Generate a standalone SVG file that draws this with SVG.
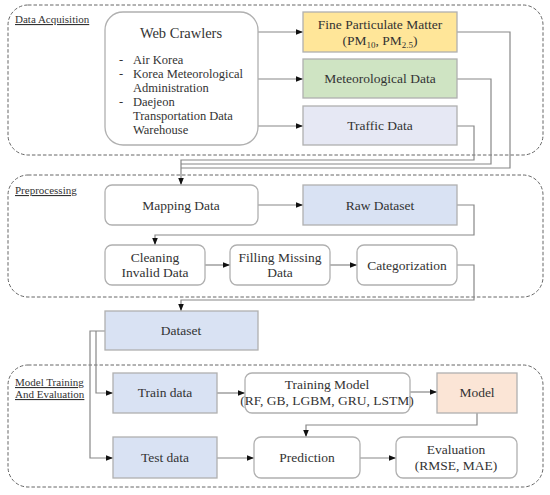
<svg xmlns="http://www.w3.org/2000/svg" width="550" height="495" viewBox="0 0 550 495">
<defs>
<style>
.grp{fill:none;stroke:#666;stroke-width:1;stroke-dasharray:3.5,2}
.box{stroke:#b0b0b0;stroke-width:1.3}
.wb{fill:#fff}
.blue{fill:#d9e2f3}
.t{font-family:"Liberation Serif","Times New Roman",serif;font-size:13.5px;fill:#333;text-anchor:middle}
.tl{font-family:"Liberation Serif","Times New Roman",serif;font-size:12.5px;fill:#333}
.lab{font-family:"Liberation Serif","Times New Roman",serif;font-size:11px;fill:#333;text-decoration:underline}
.c{fill:none;stroke:#888;stroke-width:1.2}
</style>
<marker id="ah" viewBox="0 0 10 10" refX="10" refY="5" markerWidth="7" markerHeight="7" markerUnits="userSpaceOnUse" orient="auto">
<path d="M0,1 L10,5 L0,9 z" fill="#111"/>
</marker>
</defs>
<rect width="550" height="495" fill="#fff"/>

<g id="group-acquisition">
<rect class="grp" x="8" y="5" width="535" height="150" rx="20"/>
<text class="lab" x="15" y="23">Data Acquisition</text>
</g>
<g id="group-preprocessing">
<rect class="grp" x="8" y="175" width="535" height="122" rx="20"/>
<text class="lab" x="15" y="194">Preprocessing</text>
</g>
<g id="group-model">
<rect class="grp" x="8" y="365" width="535" height="122" rx="20"/>
<text class="lab" x="15" y="386">Model Training</text>
<text class="lab" x="15" y="398">And Evaluation</text>
</g>

<g id="connectors">
<path class="c" d="M258,32 H303" marker-end="url(#ah)"/>
<path class="c" d="M258,79 H303" marker-end="url(#ah)"/>
<path class="c" d="M258,126 H303" marker-end="url(#ah)"/>
<path class="c" d="M457,32 H510 V168 H181"/>
<path class="c" d="M457,79 H491 V164 H181"/>
<path class="c" d="M457,126 H474 V160 H181 V185" marker-end="url(#ah)"/>
<path class="c" d="M258,205 H303" marker-end="url(#ah)"/>
<path class="c" d="M457,205 H474 V235 H155 V245" marker-end="url(#ah)"/>
<path class="c" d="M205,265 H230" marker-end="url(#ah)"/>
<path class="c" d="M330,265 H357" marker-end="url(#ah)"/>
<path class="c" d="M457,265 H474 V300 H181 V311" marker-end="url(#ah)"/>
<path class="c" d="M105,331 H90 V458 H113" marker-end="url(#ah)"/>
<path class="c" d="M96,331 V393 H113" marker-end="url(#ah)"/>
<path class="c" d="M217,393 H245" marker-end="url(#ah)"/>
<path class="c" d="M410,392 H437" marker-end="url(#ah)"/>
<path class="c" d="M477,413 V425 H306 V437" marker-end="url(#ah)"/>
<path class="c" d="M217,458 H254" marker-end="url(#ah)"/>
<path class="c" d="M360,458 H396" marker-end="url(#ah)"/>
</g>

<g id="web-crawlers">
<rect class="box wb" x="105" y="12" width="153" height="133" rx="18"/>
<text class="t" x="181" y="38" style="font-size:14.5px">Web Crawlers</text>
<text class="tl" x="119" y="64">-</text><text class="tl" x="133" y="64">Air Korea</text>
<text class="tl" x="119" y="78">-</text><text class="tl" x="133" y="78">Korea Meteorological</text>
<text class="tl" x="133" y="92">Administration</text>
<text class="tl" x="119" y="106">-</text><text class="tl" x="133" y="106">Daejeon</text>
<text class="tl" x="133" y="120">Transportation Data</text>
<text class="tl" x="133" y="134">Warehouse</text>
</g>
<g id="fine-pm">
<rect class="box" x="303" y="12" width="154" height="40" fill="#ffe699"/>
<text class="t" x="380" y="29">Fine Particulate Matter</text>
<text class="t" x="380" y="45">(PM<tspan font-size="9" dy="3">10</tspan><tspan dy="-3">, PM</tspan><tspan font-size="9" dy="3">2.5</tspan><tspan dy="-3">)</tspan></text>
</g>
<g id="meteorological">
<rect class="box" x="303" y="59" width="154" height="39" fill="#cfe4c3"/>
<text class="t" x="380" y="83">Meteorological Data</text>
</g>
<g id="traffic">
<rect class="box" x="303" y="106" width="154" height="39" fill="#e6e8f4"/>
<text class="t" x="380" y="130">Traffic Data</text>
</g>
<g id="mapping">
<rect class="box wb" x="105" y="185" width="153" height="40" rx="7"/>
<text class="t" x="181" y="210">Mapping Data</text>
</g>
<g id="raw-dataset">
<rect class="box blue" x="303" y="185" width="154" height="40"/>
<text class="t" x="380" y="210">Raw Dataset</text>
</g>
<g id="cleaning">
<rect class="box wb" x="105" y="245" width="100" height="40" rx="7"/>
<text class="t" x="155" y="262">Cleaning</text>
<text class="t" x="155" y="277">Invalid Data</text>
</g>
<g id="filling">
<rect class="box wb" x="230" y="245" width="100" height="40" rx="7"/>
<text class="t" x="280" y="262">Filling Missing</text>
<text class="t" x="280" y="277">Data</text>
</g>
<g id="categorization">
<rect class="box wb" x="357" y="245" width="100" height="40" rx="7"/>
<text class="t" x="407" y="270">Categorization</text>
</g>
<g id="dataset">
<rect class="box blue" x="105" y="311" width="153" height="39"/>
<text class="t" x="181" y="335">Dataset</text>
</g>
<g id="train-data">
<rect class="box blue" x="113" y="373" width="104" height="40"/>
<text class="t" x="165" y="397">Train data</text>
</g>
<g id="training-model">
<rect class="box wb" x="245" y="373" width="165" height="40" rx="7"/>
<text class="t" x="327" y="389">Training Model</text>
<text class="t" x="327" y="405">(RF, GB, LGBM, GRU, LSTM)</text>
</g>
<g id="model">
<rect class="box" x="437" y="373" width="80" height="40" fill="#fbe5d6"/>
<text class="t" x="477" y="397">Model</text>
</g>
<g id="test-data">
<rect class="box blue" x="113" y="437" width="104" height="41"/>
<text class="t" x="165" y="462">Test data</text>
</g>
<g id="prediction">
<rect class="box wb" x="254" y="437" width="106" height="41" rx="7"/>
<text class="t" x="307" y="462">Prediction</text>
</g>
<g id="evaluation">
<rect class="box wb" x="396" y="437" width="121" height="41" rx="7"/>
<text class="t" x="456" y="454">Evaluation</text>
<text class="t" x="456" y="470">(RMSE, MAE)</text>
</g>
</svg>
